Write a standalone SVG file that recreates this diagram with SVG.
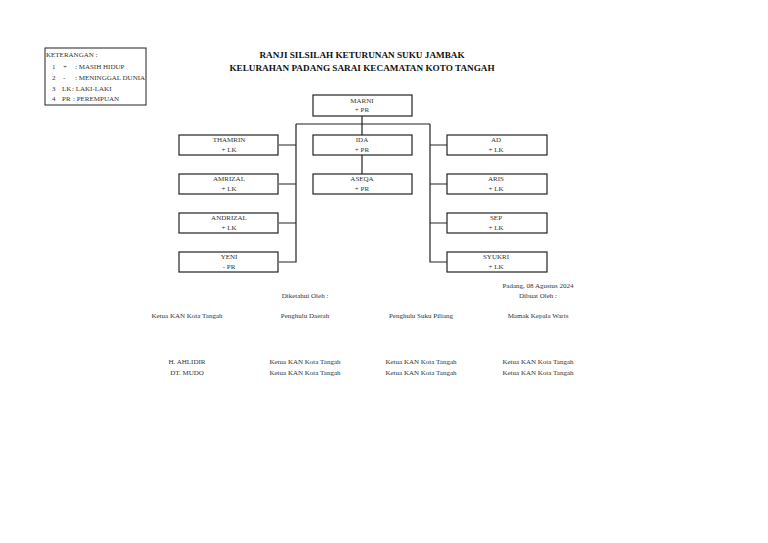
<svg xmlns="http://www.w3.org/2000/svg" width="768" height="543" viewBox="0 0 768 543">
<style>
text{font-family:"Liberation Serif","DejaVu Serif",serif;fill:#333}
.s{font-size:7px}
.n{font-size:7px;text-anchor:middle}
.t{font-size:9.2px;font-weight:bold;text-anchor:middle;fill:#111}
.b{fill:#fff;stroke:#222;stroke-width:1.2}
.c{fill:none;stroke:#222;stroke-width:1.2}
</style>
<rect width="768" height="543" fill="#fff"/>
<g id="legend">
<rect x="45" y="48" width="101" height="57" fill="none" stroke="#222" stroke-width="1"/>
<text class="s" x="46" y="57">KETERANGAN :</text>
<text class="s" x="52" y="69">1</text><text class="s" x="63" y="69">+</text><text class="s" x="75" y="69">: MASIH HIDUP</text>
<text class="s" x="52" y="80">2</text><text class="s" x="63" y="80">-</text><text class="s" x="75" y="80">: MENINGGAL DUNIA</text>
<text class="s" x="52" y="91">3</text><text class="s" x="62" y="91">LK</text><text class="s" x="72" y="91">: LAKI-LAKI</text>
<text class="s" x="52" y="101">4</text><text class="s" x="62" y="101">PR</text><text class="s" x="73" y="101">: PEREMPUAN</text>
</g>
<g id="title">
<text class="t" x="362" y="58">RANJI SILSILAH KETURUNAN SUKU JAMBAK</text>
<text class="t" x="362" y="71">KELURAHAN PADANG SARAI KECAMATAN KOTO TANGAH</text>
</g>
<g id="connectors">
<path class="c" d="M362 116V124M296 124H430M296 124V262H279M296 145H279M296 184H279M296 223H279M430 124V262H447M430 145H447M430 184H447M430 223H447M362 124V135M362 155V174"/>
</g>
<g id="marni"><rect class="b" x="313" y="95" width="99" height="21"/><text class="n" x="362" y="103">MARNI</text><text class="n" x="362" y="112">+ PR</text></g>
<g id="thamrin"><rect class="b" x="179" y="135" width="99" height="20"/><text class="n" x="229" y="142">THAMRIN</text><text class="n" x="229" y="152">+ LK</text></g>
<g id="amrizal"><rect class="b" x="179" y="174" width="99" height="20"/><text class="n" x="229" y="181">AMRIZAL</text><text class="n" x="229" y="191">+ LK</text></g>
<g id="andrizal"><rect class="b" x="179" y="213" width="99" height="20"/><text class="n" x="229" y="220">ANDRIZAL</text><text class="n" x="229" y="230">+ LK</text></g>
<g id="yeni"><rect class="b" x="179" y="252" width="99" height="20"/><text class="n" x="229" y="259">YENI</text><text class="n" x="229" y="269">- PR</text></g>
<g id="ida"><rect class="b" x="313" y="135" width="99" height="20"/><text class="n" x="362" y="142">IDA</text><text class="n" x="362" y="152">+ PR</text></g>
<g id="aseqa"><rect class="b" x="313" y="174" width="99" height="20"/><text class="n" x="362" y="181">ASEQA</text><text class="n" x="362" y="191">+ PR</text></g>
<g id="ad"><rect class="b" x="447" y="135" width="100" height="20"/><text class="n" x="496" y="142">AD</text><text class="n" x="496" y="152">+ LK</text></g>
<g id="aris"><rect class="b" x="447" y="174" width="100" height="20"/><text class="n" x="496" y="181">ARIS</text><text class="n" x="496" y="191">+ LK</text></g>
<g id="sep"><rect class="b" x="447" y="213" width="100" height="20"/><text class="n" x="496" y="220">SEP</text><text class="n" x="496" y="230">+ LK</text></g>
<g id="syukri"><rect class="b" x="447" y="252" width="100" height="20"/><text class="n" x="496" y="259">SYUKRI</text><text class="n" x="496" y="269">+ LK</text></g>
<g id="footer">
<text class="n" x="538" y="288">Padang, 08 Agustus 2024</text>
<text class="n" x="305" y="298">Diketahui Oleh :</text>
<text class="n" x="538" y="298">Dibuat Oleh :</text>
<text class="n" x="187" y="318">Ketua KAN Kota Tangah</text>
<text class="n" x="305" y="318">Penghulu Daerah</text>
<text class="n" x="421" y="318">Penghulu Suku Piliang</text>
<text class="n" x="538" y="318">Mamak Kepala Waris</text>
<text class="n" x="187" y="364">H. AHLIDIR</text>
<text class="n" x="187" y="375">DT. MUDO</text>
<text class="n" x="305" y="364">Ketua KAN Kota Tangah</text>
<text class="n" x="305" y="375">Ketua KAN Kota Tangah</text>
<text class="n" x="421" y="364">Ketua KAN Kota Tangah</text>
<text class="n" x="421" y="375">Ketua KAN Kota Tangah</text>
<text class="n" x="538" y="364">Ketua KAN Kota Tangah</text>
<text class="n" x="538" y="375">Ketua KAN Kota Tangah</text>
</g>
</svg>
